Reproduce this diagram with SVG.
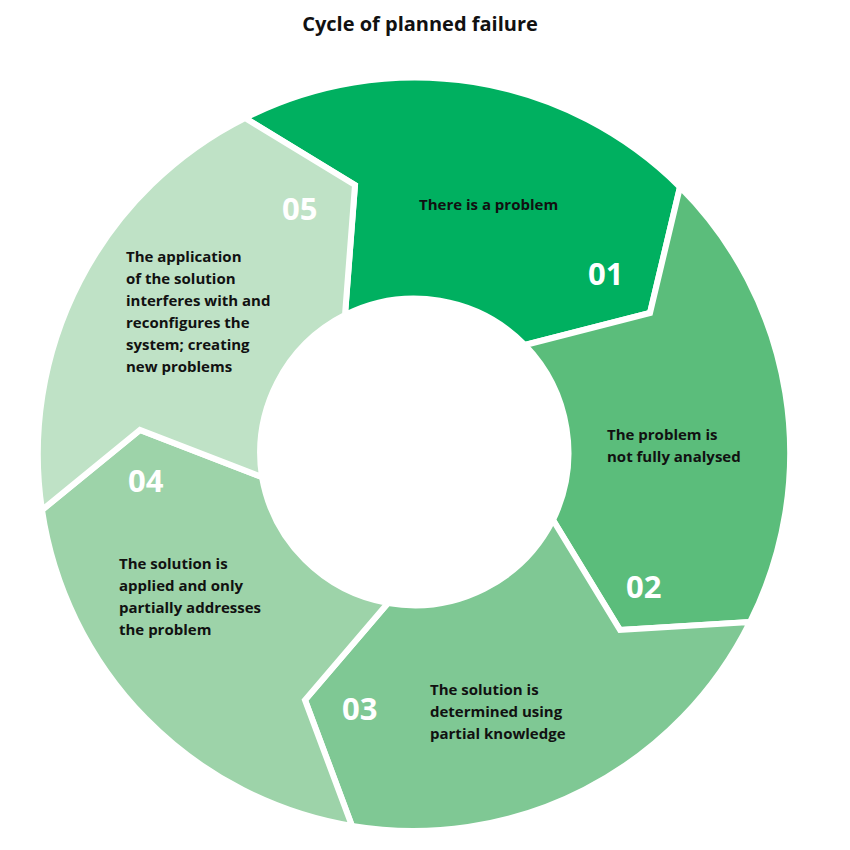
<svg xmlns="http://www.w3.org/2000/svg" width="850" height="850" viewBox="0 0 850 850">
<style>
.seg{stroke:#fff;stroke-width:6;stroke-linejoin:miter}
.t{font-family:"Open Sans","Liberation Sans",sans-serif;font-weight:bold;font-size:15px;fill:#111}
.n{font-family:"Open Sans","Liberation Sans",sans-serif;font-weight:bold;font-size:31px;fill:#fff}
</style>
<rect width="850" height="850" fill="#fff"/>
<text x="420" y="31" text-anchor="middle" font-family="Open Sans, Liberation Sans, sans-serif" font-weight="bold" font-size="20" fill="#111">Cycle of planned failure</text>
<g id="s01"><path class="seg" fill="#00b060" d="M245,118 A376,376 0 0 1 680,187 L650,313 L525,345 A155,155 0 0 0 345,315 L355,185 Z"/>
<text class="t" x="419" y="210">There is a problem</text><text class="n" x="588" y="285">01</text></g>
<g id="s02"><path class="seg" fill="#5bbd7b" d="M680,187 A376,376 0 0 1 750,622 L620,630 L553,520 A155,155 0 0 0 525,345 L650,313 Z"/>
<text class="t" x="607" y="440">The problem is</text><text class="t" x="607" y="462">not fully analysed</text><text class="n" x="626" y="598">02</text></g>
<g id="s03"><path class="seg" fill="#7fc894" d="M750,622 A376,376 0 0 1 352,826 L305,700 L388,603 A155,155 0 0 0 553,520 L620,630 Z"/>
<text class="t" x="430" y="695">The solution is</text><text class="t" x="430" y="717">determined using</text><text class="t" x="430" y="739">partial knowledge</text><text class="n" x="342" y="720">03</text></g>
<g id="s04"><path class="seg" fill="#9dd3a9" d="M352,826 A376,376 0 0 1 42,510 L140,430 L262,477 A155,155 0 0 0 388,603 L305,700 Z"/>
<text class="t" x="119" y="569">The solution is</text><text class="t" x="119" y="591">applied and only</text><text class="t" x="119" y="613">partially addresses</text><text class="t" x="119" y="635">the problem</text><text class="n" x="128" y="492">04</text></g>
<g id="s05"><path class="seg" fill="#bfe2c6" d="M42,510 A376,376 0 0 1 245,118 L355,185 L345,315 A155,155 0 0 0 262,477 L140,430 Z"/>
<text class="t" x="126" y="262">The application</text><text class="t" x="126" y="284">of the solution</text><text class="t" x="126" y="306">interferes with and</text><text class="t" x="126" y="328">reconfigures the</text><text class="t" x="126" y="350">system; creating</text><text class="t" x="126" y="372">new problems</text><text class="n" x="282" y="220">05</text></g>
<g id="connectors"></g>
</svg>
